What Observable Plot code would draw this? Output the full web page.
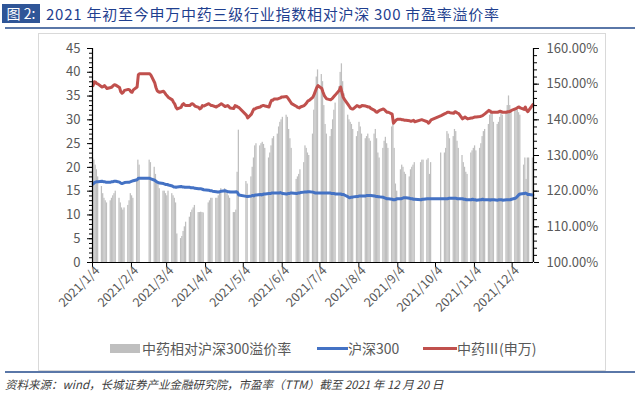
<!DOCTYPE html>
<html><head><meta charset="utf-8">
<script src="https://cdn.jsdelivr.net/npm/d3@7"></script>
<script src="https://cdn.jsdelivr.net/npm/@observablehq/plot@0.6"></script>
<style>
body{margin:0;width:640px;height:395px;position:relative;background:#fff;font-family:"Noto Sans CJK SC",sans-serif;overflow:hidden}
#tag{position:absolute;left:2px;top:4px;width:38px;height:19px;background:#2F5597;color:#fff;font-size:14px;line-height:19px;text-align:center}
#title{position:absolute;left:46px;top:3px;font-size:15px;letter-spacing:0.75px;line-height:21px;color:#1F3F8F;white-space:nowrap}
#rule1{position:absolute;left:5px;top:27px;width:630px;height:2px;background:#5A77A8}
#frame{position:absolute;left:38px;top:33px;width:566px;height:336px;border:1px solid #d9d9d9}
#chart{position:absolute;left:0;top:40px}
#legend{position:absolute;left:0;top:338px;width:640px;height:20px;font-size:14px;color:#595959}
#legend .it{position:absolute;top:0;line-height:20px;white-space:nowrap}
#legend .sw{position:absolute}
#rule2{position:absolute;left:5px;top:371px;width:630px;height:2px;background:#5A77A8}
#source{position:absolute;left:5px;top:376px;font-size:11.5px;line-height:17px;font-style:italic;color:#404040;white-space:nowrap}
</style></head><body>
<div id="tag">图 2:</div>
<div id="title">2021 年初至今申万中药三级行业指数相对沪深 300 市盈率溢价率</div>
<div id="rule1"></div>
<div id="frame"></div>
<div id="chart"></div>
<div id="legend">
  <div class="sw" style="left:110px;top:6px;width:30px;height:9px;background:#BFBFBF"></div>
  <div class="it" style="left:142px">中药相对沪深300溢价率</div>
  <div class="sw" style="left:317px;top:9px;width:31px;height:3px;background:#4472C4"></div>
  <div class="it" style="left:348px">沪深300</div>
  <div class="sw" style="left:423px;top:9px;width:34px;height:3px;background:#C0504D"></div>
  <div class="it" style="left:457px">中药Ⅲ(申万)</div>
</div>
<div id="rule2"></div>
<div id="source">资料来源：wind，长城证券产业金融研究院，市盈率（TTM）截至 2021 年 12 月 20 日</div>
<script>
// trading calendar
const startDate = "2021-01-04";
const endDate = "2021-12-20";
const holidays = ["2021-02-11","2021-02-12","2021-02-15","2021-02-16","2021-02-17","2021-04-05",
  "2021-05-03","2021-05-04","2021-05-05","2021-06-14","2021-09-20","2021-09-21",
  "2021-10-01","2021-10-04","2021-10-05","2021-10-06","2021-10-07"];
const monthTicks = ["2021-01-04","2021-02-04","2021-03-04","2021-04-04","2021-05-04","2021-06-04",
  "2021-07-04","2021-08-04","2021-09-04","2021-10-04","2021-11-04","2021-12-04"];
const leftTicks = [0,5,10,15,20,25,30,35,40,45];
const rightTicks = [100,110,120,130,140,150,160];

// 中药相对沪深300溢价率 (%), one per trading day
const premium = [
 129.2,128.7,127.3,126.0,124.0, 121.3,119.3,118.0,117.3,116.7, 117.3,118.0,118.7,119.3,120.0, 118.0,116.7,115.3,114.7,115.3,
 116.0,117.3,119.3,118.7,118.0, 122.7,128.7,127.3, 128.7,128.0, 126.7,124.7,122.7,122.0,120.7,
 120.0,120.0,119.3,118.7,120.0, 119.3,118.7,118.0,116.7,108.0, 106.7,107.3,108.7,110.0,111.3, 112.7,114.0,114.7,115.3,116.0, 114.0,114.0,114.1,
 114.0,113.9, 116.7,117.3,118.0,118.0, 118.0,118.0,118.7,119.3,120.7, 120.7,120.0,119.3,118.7,118.0, 114.0,114.0,114.7,125.3,137.1,
 122.7,122.0, 124.0,126.7,129.3,132.7,133.3, 132.7,133.3,133.7,133.1,132.0, 129.3,130.7,132.7,134.7,135.3, 136.0,
 138.0,139.3,140.0,140.7, 141.3,140.7,137.3,134.7,132.0, 123.3,124.0,124.7,126.0, 128.0,132.7,132.0,130.7,130.0, 136.0,142.7,148.0,
 152.0,154.0, 152.7,150.7,144.0,138.7,136.0, 135.3,137.3,140.0,142.7,144.7, 149.3,153.3,155.7,150.7,147.3, 141.3,140.0,139.3,138.7,137.3,
 135.3,136.7,139.3,138.0,136.0, 134.7,135.3,136.0,134.7,134.0, 136.0,137.3,134.7,130.7,129.3, 132.0,134.0,135.1,133.3,132.0, 138.0,138.7,
 132.0,122.0,120.0, 126.0,127.3,126.7,125.3,124.7, 124.0,126.0,126.7,127.3,128.0, 128.0,128.7,128.7, 128.7,129.1,124.7,128.0,
 130.7, 130.7,132.0,136.7,136.0,134.7, 135.3,137.3,136.7,134.0,132.0, 130.0,128.0,126.7,125.3,124.7,
 130.7,131.3,132.0,132.7,131.3, 132.0,133.3,135.3,136.7,137.3, 138.7,141.3,142.7,142.0,139.3, 138.7,139.3,140.7,142.0,141.3, 142.0,144.0,
 146.7,144.0,142.7, 142.7,143.3,142.7,142.0,141.3, 127.3,129.3,123.3,129.3,129.3, 129.3
];
// 沪深300 PE
const hs300 = [
 16.5,16.8,16.9,17.0,17.0, 17.1,17.0,17.0,16.9,16.9, 16.9,17.0,17.0,17.1,17.1, 16.9,16.7,16.6,16.7,16.8,
 16.9,16.9,17.0,17.1,17.2, 17.4,17.7,17.7, 17.7,17.6, 17.3,17.1,16.9,16.8,16.7,
 16.6,16.5,16.4,16.4,16.3, 16.1,15.9,15.9,15.8,15.9, 16.0,15.9,15.9,15.8,15.8, 15.8,15.7,15.7,15.7,15.6, 15.5,15.5,15.5,
 15.4,15.3, 15.2,15.1,15.1,15.0, 14.9,14.8,14.8,14.9,15.0, 15.1,15.0,14.9,14.9,14.8, 14.8,14.8,14.9,14.7,14.2,
 13.9,13.9, 14.0,14.1,14.0,14.2,14.2, 14.3,14.2,14.3,14.4,14.4, 14.5,14.5,14.6,14.6,14.6, 14.6,
 14.6,14.7,14.6,14.5, 14.4,14.5,14.5,14.6,14.6, 14.5,14.6,14.6,14.7, 14.8,14.8,14.8,14.9,14.9, 14.8,14.7,14.6,
 14.6,14.6, 14.6,14.6,14.6,14.6,14.6, 14.6,14.5,14.5,14.5,14.4, 14.4,14.4,14.3,14.3,14.2, 13.8,13.6,13.7,13.7,13.8,
 13.9,13.9,14.0,14.0,14.0, 14.0,14.1,14.1,14.1,14.1, 14.0,13.9,13.9,13.8,13.8, 13.7,13.6,13.5,13.4,13.4, 13.3,13.2,
 13.2,13.3,13.4, 13.4,13.5,13.6,13.6,13.6, 13.5,13.4,13.4,13.3,13.3, 13.2,13.3,13.3, 13.4,13.4,13.4,13.4,
 13.4, 13.4,13.4,13.4,13.5,13.5, 13.5,13.5,13.5,13.4,13.4, 13.4,13.3,13.3,13.2,13.2,
 13.2,13.3,13.2,13.2,13.1, 13.2,13.2,13.3,13.2,13.2, 13.2,13.1,13.2,13.2,13.2, 13.1,13.2,13.2,13.2,13.1, 13.2,13.2,
 13.2,13.2,13.3, 13.5,13.7,14.0,14.3,14.4, 14.5,14.6,14.5,14.3,14.3, 14.2
];
// 中药Ⅲ(申万) PE
const tcmPE = [
 37.2,38.0,37.9,37.6,37.5, 36.9,37.0,37.2,36.9,36.6, 36.8,36.9,37.2,37.4,37.3, 36.8,35.9,35.6,35.8,36.2,
 36.4,36.3,35.9,35.8,36.3, 36.9,39.5,39.7, 39.7,39.4, 37.8,36.8,36.1,35.9,35.8,
 36.0,35.7,35.3,35.0,34.7, 34.2,33.7,33.3,32.6,32.3, 32.6,33.2,33.4,33.1,33.0, 33.0,33.3,33.4,33.2,32.9, 32.6,32.3,32.5,
 33.0,32.9, 33.4,33.2,33.0,33.0, 32.7,32.9,33.0,33.2,33.4, 32.8,32.9,33.0,32.8,32.5, 32.4,33.0,32.9,32.7,32.6,
 31.0,30.4, 31.2,31.8,32.3,32.3,32.5, 32.7,32.9,33.0,33.0,32.9, 32.7,33.5,34.1,34.1,34.4, 34.4,
 34.5,34.6,34.8,34.8, 34.9,34.6,34.2,33.8,33.4, 32.8,32.6,32.5,32.7, 33.0,33.3,33.6,34.0,34.1, 34.8,35.4,36.1,
 36.8,37.2, 36.6,35.8,35.1,34.7,34.4, 34.2,34.4,34.7,35.0,35.3, 36.2,36.9,35.8,34.8,34.3, 33.2,32.8,32.4,32.3,32.3,
 33.0,32.9,32.7,32.8,33.0, 32.9,32.8,32.7,32.7,32.4, 32.0,31.7,31.6,31.8,32.0, 32.3,32.1,31.8,31.6,31.6, 31.2,29.3,
 29.6,29.9,30.1, 30.1,30.0,30.0,29.9,29.9, 29.8,29.7,29.8,29.9,29.6, 30.0,30.0,29.9, 29.6,29.3,29.6,30.0,
 30.9, 31.3,31.4,31.6,31.6,31.5, 31.4,31.7,31.6,31.4,31.3, 30.2,30.4,30.6,30.4,30.2,
 30.4,30.4,30.5,30.6,30.6, 30.7,30.8,30.9,31.1,31.3, 32.0,31.8,31.6,31.6,31.6, 31.6,31.7,31.8,31.7,31.6, 31.6,31.7,
 31.7,31.8,32.0, 32.3,32.4,32.6,32.7,32.5, 32.2,32.7,32.0,31.7,32.1, 33.2
];

const parse = d3.utcParse("%Y-%m-%d");
const fmt = d3.utcFormat("%Y-%m-%d");
const start = parse(startDate);
const stop = d3.utcDay.offset(parse(endDate), 1);
const hol = new Set(holidays);
const days = d3.utcDays(start, stop).filter(d => d.getUTCDay() % 6 !== 0 && !hol.has(fmt(d)));
const data = days.map((d, i) => ({
  date: d, next: d3.utcDay.offset(d, 1), mid: d3.utcHour.offset(d, 12),
  prem: premium[i], idx: hs300[i], tcm: tcmPE[i]
}));
// right axis (100%–160%) mapped onto left axis (0–45)
const toLeft = p => (p - 100) * 45 / 60;
const ticksX = monthTicks.map(parse);
const minorL = d3.range(0, 46, 1);
const minorR = d3.range(100, 160.01, 2).map(toLeft);

const chart = Plot.plot({
  width: 640, height: 300,
  marginLeft: 92, marginRight: 107, marginTop: 8, marginBottom: 78,
  style: {fontFamily: "'Noto Sans CJK SC', sans-serif", fontSize: "12px", overflow: "visible"},
  x: {type: "utc", domain: [start, stop]},
  y: {domain: [0, 45]},
  marks: [
    Plot.rect(data, {x1: "date", x2: "next", y1: 0, y2: d => toLeft(d.prem), fill: "#BFBFBF"}),
    Plot.line(data, {x: "mid", y: "idx", stroke: "#4472C4", strokeWidth: 3}),
    Plot.line(data, {x: "mid", y: "tcm", stroke: "#C0504D", strokeWidth: 3}),
    Plot.ruleX([start], {stroke: "#000", strokeWidth: 1.2}),
    Plot.ruleX([stop], {stroke: "#000", strokeWidth: 1.2}),
    Plot.ruleY([0], {stroke: "#000", strokeWidth: 1.2}),
    Plot.axisY(minorL, {anchor: "left", tickSize: 3, tickFormat: () => "", color: "#000"}),
    Plot.axisY(leftTicks, {anchor: "left", tickSize: 5, tickFormat: () => "", color: "#000"}),
    Plot.axisY(leftTicks, {anchor: "left", tickSize: 0, tickPadding: 12, fontSize: 13, color: "#595959"}),
    Plot.axisY(minorR, {anchor: "right", tickSize: 3, tickFormat: () => "", color: "#000"}),
    Plot.axisY(rightTicks.map(toLeft), {anchor: "right", tickSize: 5, tickFormat: () => "", color: "#000"}),
    Plot.axisY(rightTicks.map(toLeft), {anchor: "right", tickSize: 0, tickPadding: 13, fontSize: 13, color: "#595959",
      tickFormat: d => (100 + d * 60 / 45).toFixed(2) + "%"}),
    Plot.axisX(ticksX, {anchor: "bottom", tickSize: 5, tickFormat: () => "", color: "#000"}),
    Plot.axisX(ticksX, {anchor: "bottom", tickSize: 0, tickPadding: 6, tickRotate: -45, dx: 5, fontSize: 12.5, color: "#595959",
      tickFormat: d => `2021/${d.getUTCMonth() + 1}/${d.getUTCDate()}`})
  ]
});
document.getElementById("chart").appendChild(chart);
</script>
</body></html>
